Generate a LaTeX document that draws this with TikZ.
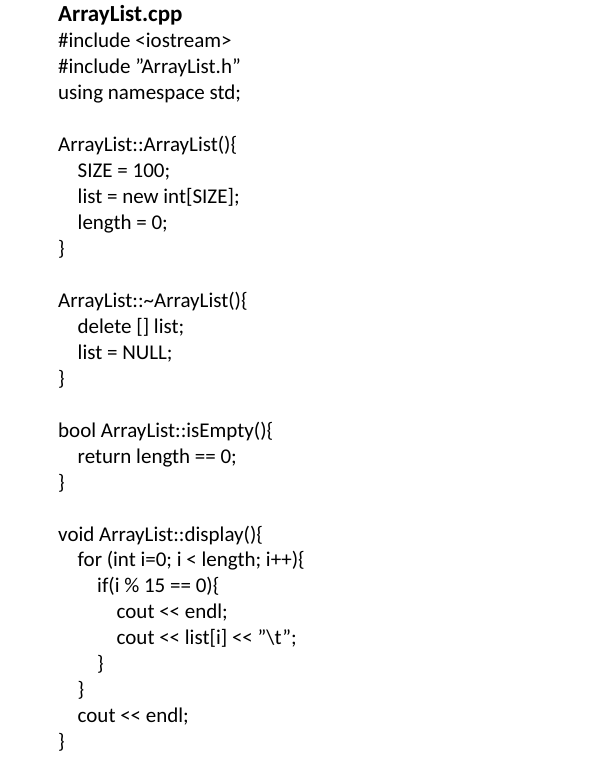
\documentclass[tikz,border=0pt]{standalone}
\usepackage{fontspec}
\setmainfont{Carlito}
\newcommand{\dq}{\symbol{34}}
\newcommand{\shl}{<\kern0pt<}
\begin{document}
\begin{tikzpicture}[x=1pt,y=1pt,
  ln/.style={anchor=west,inner sep=0pt,text height=15pt,text depth=5pt,font=\fontsize{21}{25}\selectfont}]
\path[use as bounding box,fill=white] (0,0) rectangle (604,-767);
\def\Y#1{-(17+25.95*#1)}
\node[ln,font=\fontsize{23}{27}\selectfont\bfseries] (l0) at (58,{\Y{0}}) {ArrayList.cpp};
\node[ln] (l1) at (58,{\Y{1}}) {\#include <iostream>};
\node[ln] (l2) at (58,{\Y{2}}) {\#include \dq ArrayList.h\dq};
\node[ln] (l3) at (58,{\Y{3}}) {using namespace std;};
\node[ln] (l5) at (58,{\Y{5}}) {ArrayList::ArrayList()\{};
\node[ln] (l6) at (77.5,{\Y{6}}) {SIZE = 100;};
\node[ln] (l7) at (77.5,{\Y{7}}) {list = new int[SIZE];};
\node[ln] (l8) at (77.5,{\Y{8}}) {length = 0;};
\node[ln] (l9) at (58,{\Y{9}}) {\}};
\node[ln] (l11) at (58,{\Y{11}}) {ArrayList::\textasciitilde ArrayList()\{};
\node[ln] (l12) at (77.5,{\Y{12}}) {delete [] list;};
\node[ln] (l13) at (77.5,{\Y{13}}) {list = NULL;};
\node[ln] (l14) at (58,{\Y{14}}) {\}};
\node[ln] (l16) at (58,{\Y{16}}) {bool ArrayList::isEmpty()\{};
\node[ln] (l17) at (77.5,{\Y{17}}) {return length == 0;};
\node[ln] (l18) at (58,{\Y{18}}) {\}};
\node[ln] (l20) at (58,{\Y{20}}) {void ArrayList::display()\{};
\node[ln] (l21) at (77.5,{\Y{21}}) {for (int i=0; i < length; i++)\{};
\node[ln] (l22) at (97,{\Y{22}}) {if(i \% 15 == 0)\{};
\node[ln] (l23) at (116.5,{\Y{23}}) {cout \shl{} endl;};
\node[ln] (l24) at (116.5,{\Y{24}}) {cout \shl{} list[i] \shl{} \dq\textbackslash t\dq;};
\node[ln] (l25) at (97,{\Y{25}}) {\}};
\node[ln] (l26) at (77.5,{\Y{26}}) {\}};
\node[ln] (l27) at (77.5,{\Y{27}}) {cout \shl{} endl;};
\node[ln] (l28) at (58,{\Y{28}}) {\}};
\end{tikzpicture}
\end{document}
